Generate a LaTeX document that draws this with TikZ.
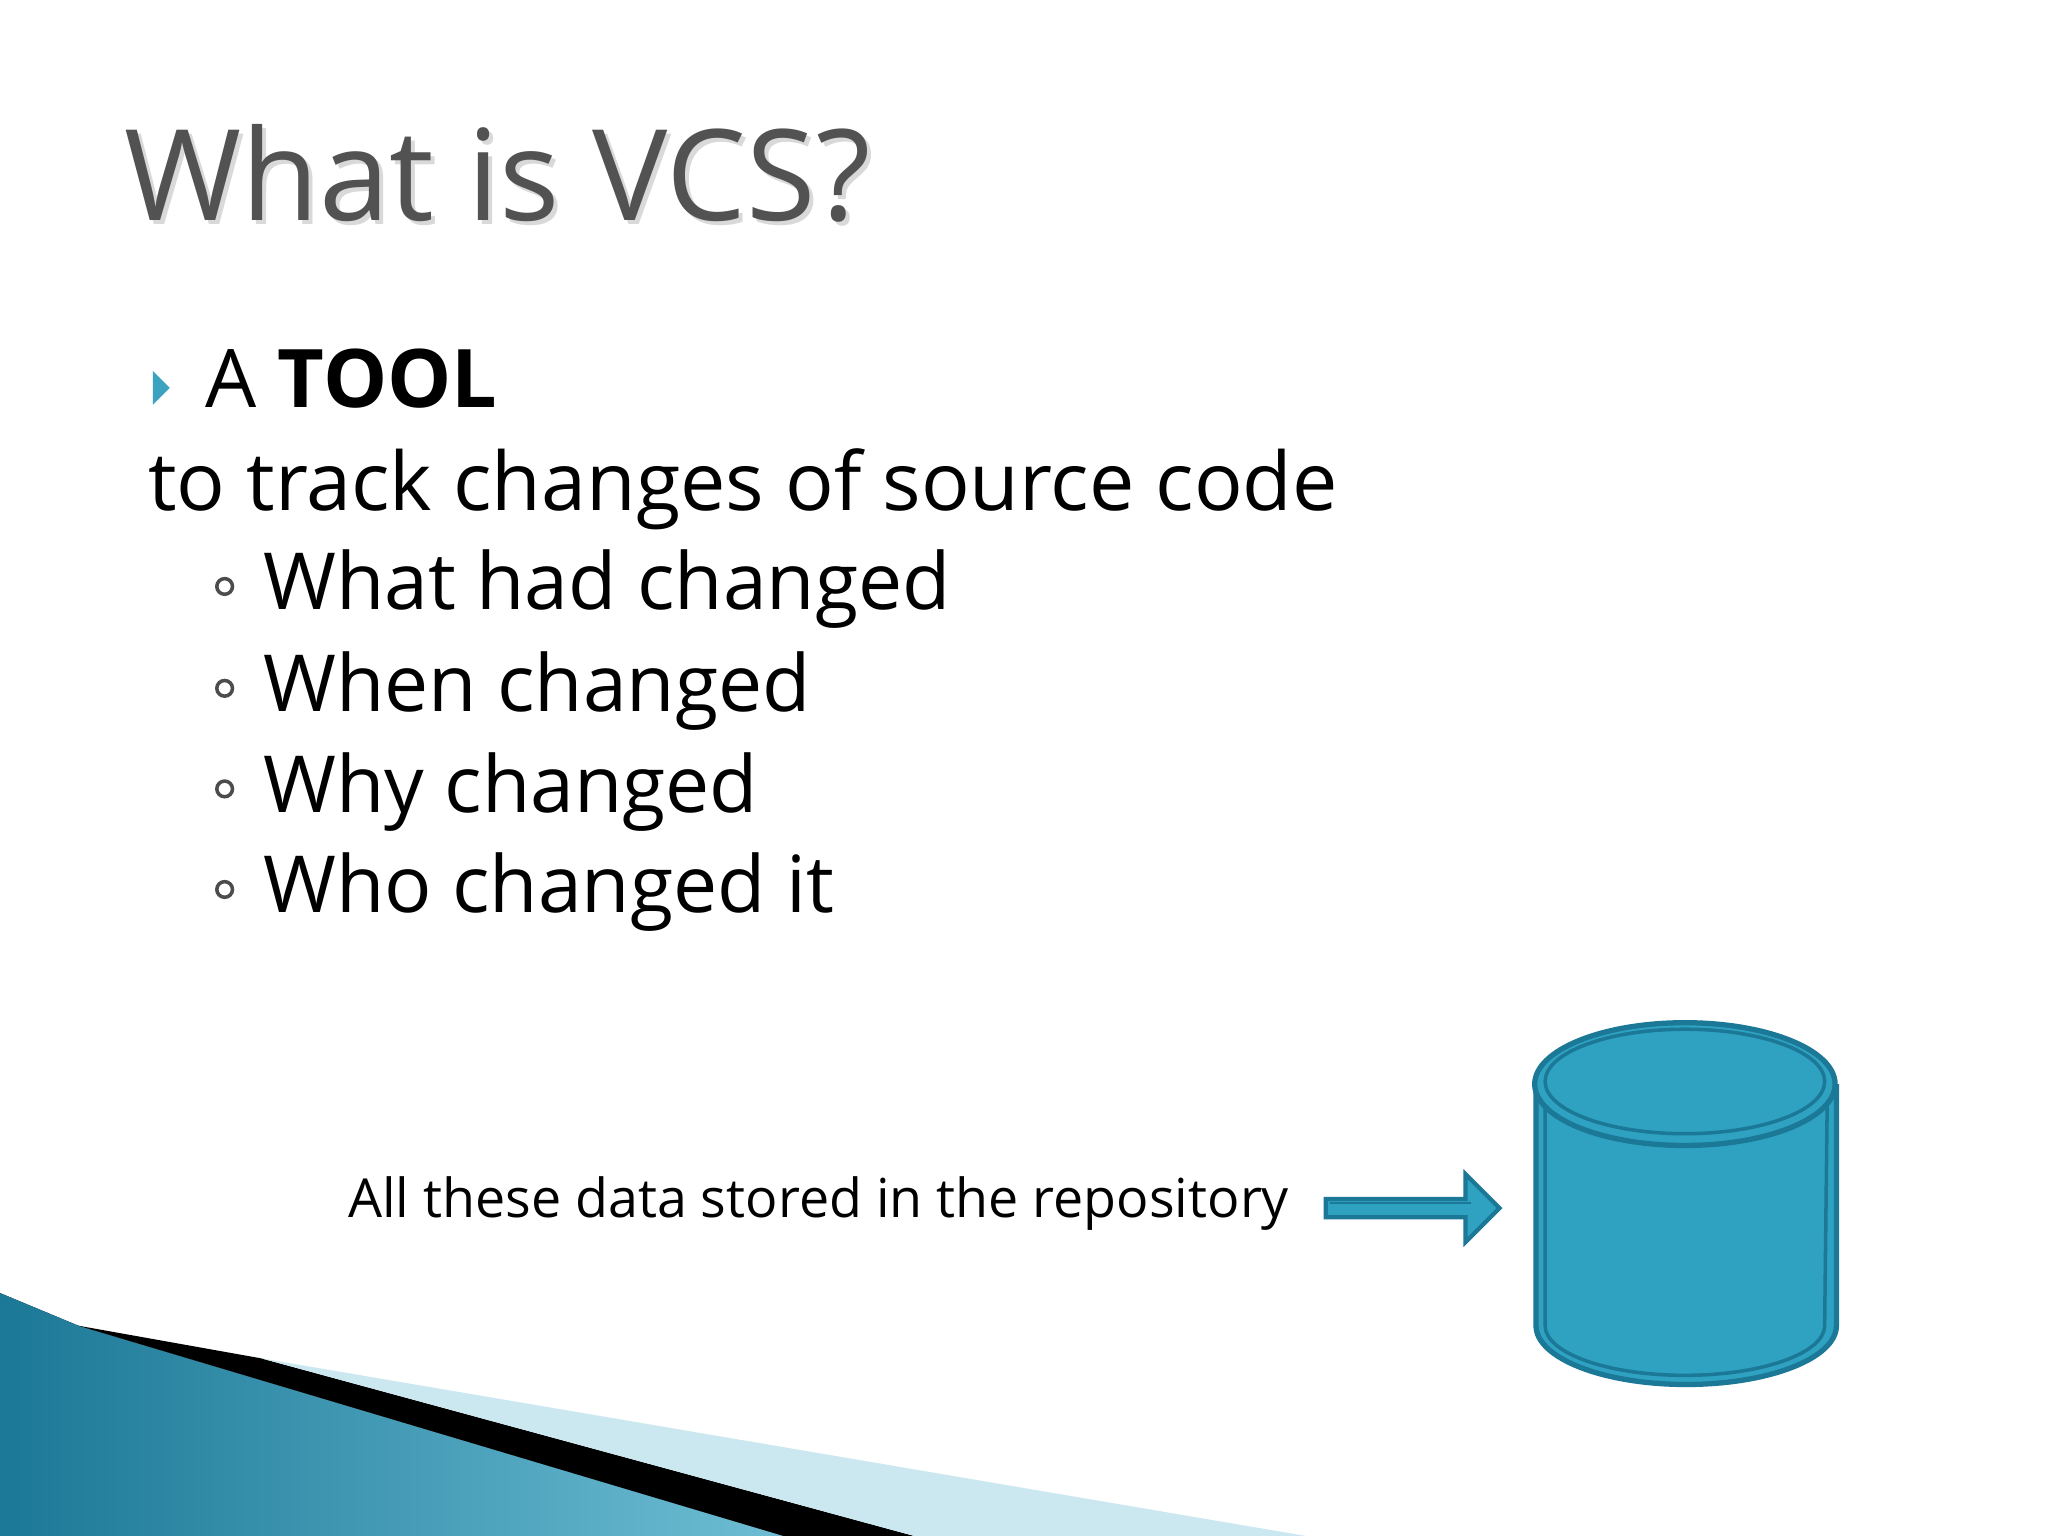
\documentclass[tikz,border=0pt]{standalone}
\usepackage{fontspec}
\setmainfont{Open Sans}
\definecolor{teal1}{HTML}{2FA2C2}
\definecolor{teal2}{HTML}{1B7896}
\definecolor{bul}{HTML}{3BA3BF}
\tikzset{body/.style={anchor=base west,inner sep=0pt,font=\fontsize{23}{28}\selectfont},
sub/.style={body,font=\fontsize{22.4}{28}\selectfont}}
\begin{document}
\begin{tikzpicture}[x=0.013061cm,y=-0.013061cm]
\useasboundingbox (0,0) rectangle (1568,1176);
\fill[white] (0,0) rectangle (1568,1176);
% decoration
\fill[left color=teal2,right color=teal1!70] (0,990) -- (60,1015) -- (600,1176) -- (0,1176) -- cycle;
\fill[black] (60,1015) -- (200,1040) -- (700,1176) -- (600,1176) -- cycle;
\fill[teal1!25] (200,1040) -- (1000,1176) -- (700,1176) -- cycle;
% title
\node[anchor=base west,inner sep=0pt,text=gray!30,font=\fontsize{36}{40}\selectfont] at (98,172) {What is VCS?};
\node[anchor=base west,inner sep=0pt,text=black!68,font=\fontsize{36}{40}\selectfont] (title) at (95,169) {What is VCS?};
% bullets
\fill[bul] (117,284) -- (130,297) -- (117,310) -- cycle;
\node[body] (a) at (157,312) {A \textbf{TOOL}};
\node[body] (b) at (113,391) {to track changes of source code};
\foreach \t/\y [count=\i] in {What had changed/467,When changed/545,Why changed/622,Who changed it/699}{
  \draw[black!70,line width=1pt] (172,\y-18) circle (6);
  \node[sub] (s\i) at (201,\y) {\t};
}
\node[anchor=base west,inner sep=0pt,font=\fontsize{15.3}{18}\selectfont] (note) at (266,932) {All these data stored in the repository};
% arrow
\coordinate (arr) at (1015,925);
\draw[teal2,fill=teal1,line width=1.2pt] (1015,918) -- (1122,918) -- (1122,899) -- (1148,925) -- (1122,951) -- (1122,932) -- (1015,932) -- cycle;
\draw[teal2,line width=0.8pt] (1018,921) -- (1126,921);
% cylinder
\coordinate (cyl) at (1290,830);
\fill[teal1] (1176,830) -- (1176,1015) arc[start angle=180,end angle=0,x radius=115,y radius=45] -- (1406,830) -- cycle;
\draw[teal2,line width=1.5pt] (1176,830) -- (1176,1015) arc[start angle=180,end angle=0,x radius=115,y radius=45] -- (1406,830);
\draw[teal2,line width=1pt] (1183,840) -- (1183,1015) arc[start angle=180,end angle=0,x radius=107,y radius=38] -- (1399,840);
\fill[teal1] (cyl) ellipse[x radius=115,y radius=47];
\draw[teal2,line width=1.5pt] (cyl) ellipse[x radius=115,y radius=47];
\draw[teal2,line width=1pt] (1290,828) ellipse[x radius=107,y radius=40];
\end{tikzpicture}
\end{document}
